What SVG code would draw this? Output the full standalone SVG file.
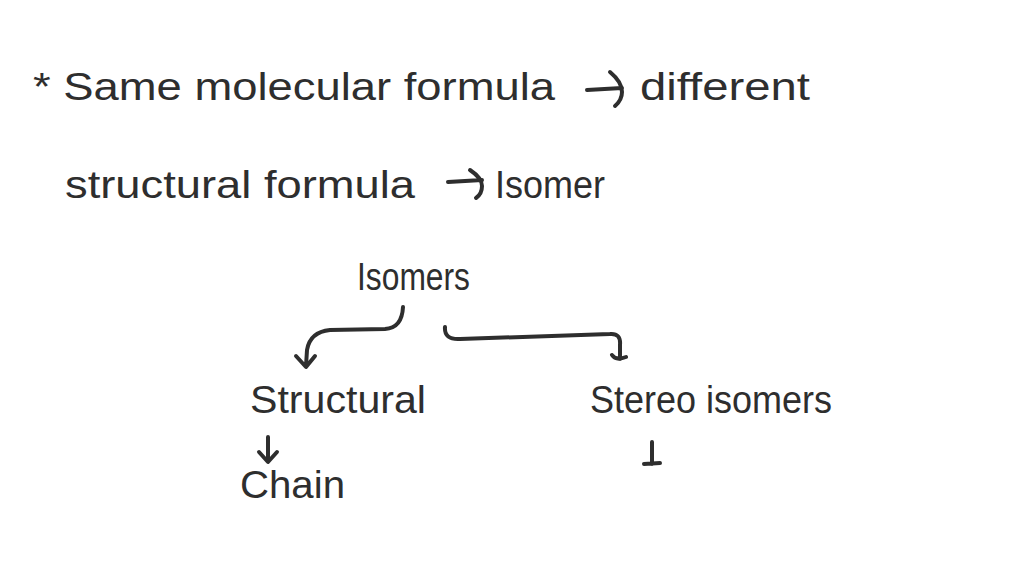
<svg xmlns="http://www.w3.org/2000/svg" width="1024" height="576" viewBox="0 0 1024 576">
<style>
.t{font-family:"Liberation Sans","DejaVu Sans",sans-serif;fill:#2e2e2e;font-size:38px}
.c{fill:none;stroke:#2e2e2e;stroke-width:4;stroke-linecap:round;stroke-linejoin:round}
</style>
<rect width="1024" height="576" fill="#ffffff"/>
<g id="line1">
<text class="t" x="33" y="100" textLength="522" lengthAdjust="spacingAndGlyphs">* Same molecular formula</text>
<text class="t" x="640" y="100" textLength="170" lengthAdjust="spacingAndGlyphs">different</text>
</g>
<g id="line2">
<text class="t" x="65" y="198" textLength="350" lengthAdjust="spacingAndGlyphs">structural formula</text>
<text class="t" x="495" y="198" textLength="110" lengthAdjust="spacingAndGlyphs">Isomer</text>
</g>
<g id="isomers"><text class="t" x="357" y="290" textLength="113" lengthAdjust="spacingAndGlyphs">Isomers</text></g>
<g id="structural"><text class="t" x="250" y="413" textLength="176" lengthAdjust="spacingAndGlyphs">Structural</text></g>
<g id="stereo"><text class="t" x="590" y="413" textLength="242" lengthAdjust="spacingAndGlyphs">Stereo isomers</text></g>
<g id="chain"><text class="t" x="240" y="498" textLength="105" lengthAdjust="spacingAndGlyphs">Chain</text></g>
<g id="connectors">
<path class="c" d="M587,90 L622,88 M610,72 Q622,82 622,92 Q622,100 615,106"/>
<path class="c" d="M448,182 L482,180 M470,170 Q482,178 482,186 Q482,194 476,198"/>
<path class="c" d="M403,307 Q402,328 385,329 L330,330 Q310,332 307,350 L306,366 M296,356 L306,367 L315,356"/>
<path class="c" d="M445,327 Q444,340 460,339 L610,334 Q621,333 620,345 L620,359 M612,355 Q616,361 626,357"/>
<path class="c" d="M268,437 L268,461 M259,452 L268,462 L277,452"/>
<path class="c" d="M652,442 L652,464 M644,464 L660,463"/>
</g>
</svg>
